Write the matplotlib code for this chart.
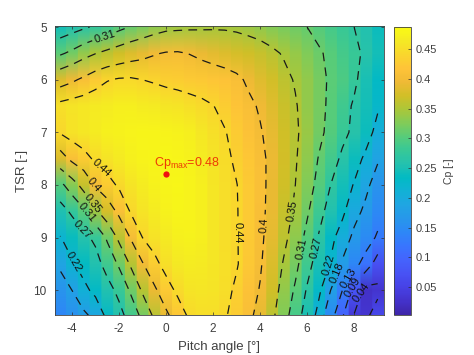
import numpy as np
import matplotlib
matplotlib.use('Agg')
import matplotlib.pyplot as plt
from matplotlib.colors import LinearSegmentedColormap

plt.rcParams['font.family'] = ['Liberation Sans', 'DejaVu Sans']
plt.rcParams['axes.unicode_minus'] = False

pitch = [-4.5, -4, -3.5, -3, -2.5, -2, -1.5, -1, -0.5, 0, 0.5, 1, 1.5, 2,
         2.5, 3, 3.5, 4, 4.5, 5, 5.5, 6, 6.5, 7, 7.5, 8, 8.5, 9]
tsr = [5, 5.5, 6, 6.5, 7, 7.5, 8, 8.5, 9, 9.5, 10, 10.5]

# Cp, one row per TSR
cp_50 = [.245, .255, .265, .275, .285, .300, .312, .322, .332, .340, .342, .344, .345, .346, .346, .344, .340, .335, .328, .322, .316, .310, .300, .290, .280, .270, .255, .240]
cp_55 = [.305, .318, .335, .349, .360, .370, .380, .388, .397, .403, .404, .399, .392, .386, .380, .375, .370, .365, .357, .347, .337, .325, .314, .303, .290, .280, .262, .245]
cp_60 = [.380, .393, .408, .425, .438, .444, .445, .440, .436, .432, .429, .426, .424, .420, .416, .408, .394, .383, .373, .360, .347, .335, .320, .305, .295, .278, .250, .230]
cp_65 = [.452, .458, .462, .465, .468, .470, .470, .468, .465, .460, .457, .452, .447, .441, .430, .418, .408, .396, .382, .366, .353, .335, .320, .303, .285, .265, .245, .226]
cp_70 = [.443, .455, .462, .468, .472, .475, .477, .478, .478, .477, .475, .470, .462, .452, .442, .428, .415, .403, .388, .370, .355, .338, .318, .300, .280, .262, .240, .205]
cp_75 = [.380, .410, .428, .446, .457, .465, .472, .476, .479, .480, .479, .475, .468, .458, .448, .434, .421, .408, .392, .373, .353, .332, .308, .287, .263, .240, .210, .185]
cp_80 = [.300, .330, .365, .405, .427, .445, .458, .467, .475, .479, .480, .477, .470, .460, .450, .441, .425, .410, .390, .370, .350, .325, .300, .270, .245, .217, .190, .160]
cp_85 = [.253, .277, .303, .343, .375, .410, .443, .458, .468, .474, .478, .477, .470, .460, .450, .442, .425, .408, .390, .365, .344, .315, .283, .255, .228, .195, .170, .145]
cp_90 = [.218, .239, .260, .278, .315, .358, .403, .440, .455, .465, .472, .475, .470, .460, .450, .442, .426, .407, .385, .360, .332, .300, .267, .230, .203, .170, .147, .125]
cp_95 = [.187, .215, .235, .255, .285, .315, .355, .397, .430, .452, .463, .468, .465, .460, .452, .443, .423, .404, .378, .347, .320, .285, .250, .217, .175, .142, .115, .070]
cp_100 = [.160, .180, .210, .230, .255, .280, .315, .355, .392, .425, .447, .458, .460, .458, .450, .434, .415, .398, .370, .335, .305, .266, .228, .180, .130, .075, .025, .030]
cp_105 = [.140, .155, .170, .190, .228, .256, .285, .318, .355, .390, .420, .445, .450, .450, .443, .428, .408, .388, .358, .325, .290, .250, .205, .145, .093, .036, .033, .060]

levels = [0.04, 0.09, 0.13, 0.18, 0.22, 0.27, 0.31, 0.35, 0.4, 0.44]
cp_max_pitch = 0
cp_max_tsr = 7.8

parula = [(0.2422, 0.1504, 0.6603), (0.2647, 0.1978, 0.7952), (0.2783, 0.2559, 0.8991),
          (0.2810, 0.3228, 0.9579), (0.2699, 0.3892, 0.9906), (0.2206, 0.4603, 0.9973),
          (0.1786, 0.5289, 0.9682), (0.1540, 0.5902, 0.9218), (0.1248, 0.6459, 0.8883),
          (0.0689, 0.6948, 0.8394), (0.0067, 0.7312, 0.7660), (0.1408, 0.7584, 0.6842),
          (0.2161, 0.7843, 0.5923), (0.3406, 0.8008, 0.4789), (0.5044, 0.7993, 0.3480),
          (0.6720, 0.7793, 0.2227), (0.8203, 0.7498, 0.1535), (0.9393, 0.7288, 0.2100),
          (0.9970, 0.7659, 0.2199), (0.9786, 0.8386, 0.1766), (0.9597, 0.9135, 0.1423),
          (0.9769, 0.9839, 0.0805)]
cmap = LinearSegmentedColormap.from_list('parula', parula, N=256)

text_col = '#404040'
W, H = 474, 355

cp = np.array([cp_50, cp_55, cp_60, cp_65, cp_70, cp_75, cp_80, cp_85, cp_90, cp_95, cp_100, cp_105])

fig = plt.figure(figsize=(W / 100, H / 100), dpi=100)
ax = fig.add_axes([55 / W, 1 - 315 / H, 329 / W, 289 / H])

# columns stay as blocks, only the TSR direction is smoothed
im = ax.imshow(np.repeat(cp, 12, axis=1), cmap=cmap, vmin=0.003, vmax=0.487, aspect='auto',
               interpolation='bilinear', extent=(-4.75, 9.25, 10.75, 4.75))
cs = ax.contour(pitch, tsr, cp, levels=levels, colors='#1a1a1a', linewidths=0.9,
                linestyles=[(0, (7, 5))])

label_spots = [(-2.6, 5.21), (-3.37, 8.53), (5.85, 9.23),
               (-2.8, 7.71), (3.15, 8.9),
               (-3.1, 8.0), (4.26, 8.76),
               (-3.15, 8.37), (5.4, 8.5),
               (-3.57, 8.85), (6.38, 9.19),
               (-3.95, 9.47), (6.85, 9.5),
               (7.22, 9.66), (7.7, 9.76), (7.9, 9.93), (8.3, 10.03)]
ax.clabel(cs, levels, fmt='%g', fontsize=8, colors='#111111', manual=label_spots, inline=True, inline_spacing=2)

ax.plot([cp_max_pitch], [cp_max_tsr], 'o', color='#f01010', ms=4.5, mew=0)
ax.text(-0.5, 7.64, 'Cp$_{\\mathregular{max}}$=0.48', color='#ee3a05', fontsize=9, va='baseline', ha='left')

ax.set_xlim(-4.72, 9.27)
ax.set_ylim(10.47, 4.98)
ax.set_xticks([-4, -2, 0, 2, 4, 6, 8])
ax.set_yticks([5, 6, 7, 8, 9, 10])
ax.tick_params(direction='in', top=True, right=True, length=2.5, width=0.5, color='#303030',
               labelcolor=text_col, labelsize=8.5, pad=6)
ax.set_xlabel('Pitch angle [°]', color=text_col, fontsize=9.5, labelpad=4)
ax.set_ylabel('TSR [-]', color=text_col, fontsize=9.5, labelpad=4)
for s in ax.spines.values():
    s.set_linewidth(0.6)
    s.set_color('#404040')

cax = fig.add_axes([394 / W, 1 - 315 / H, 17 / W, 288 / H])
cb = fig.colorbar(im, cax=cax)
cb.set_ticks([0.05, 0.1, 0.15, 0.2, 0.25, 0.3, 0.35, 0.4, 0.45])
cb.set_ticklabels(['0.05', '0.1', '0.15', '0.2', '0.25', '0.3', '0.35', '0.4', '0.45'])
cax.tick_params(direction='in', length=2.5, width=0.5, color='#303030', labelcolor=text_col,
                labelsize=8, pad=3)
cb.outline.set_linewidth(0.6)
cb.outline.set_edgecolor('#404040')
cb.set_label('Cp [-]', color=text_col, fontsize=7.5, labelpad=5)

fig.savefig('out.png', dpi=100)
